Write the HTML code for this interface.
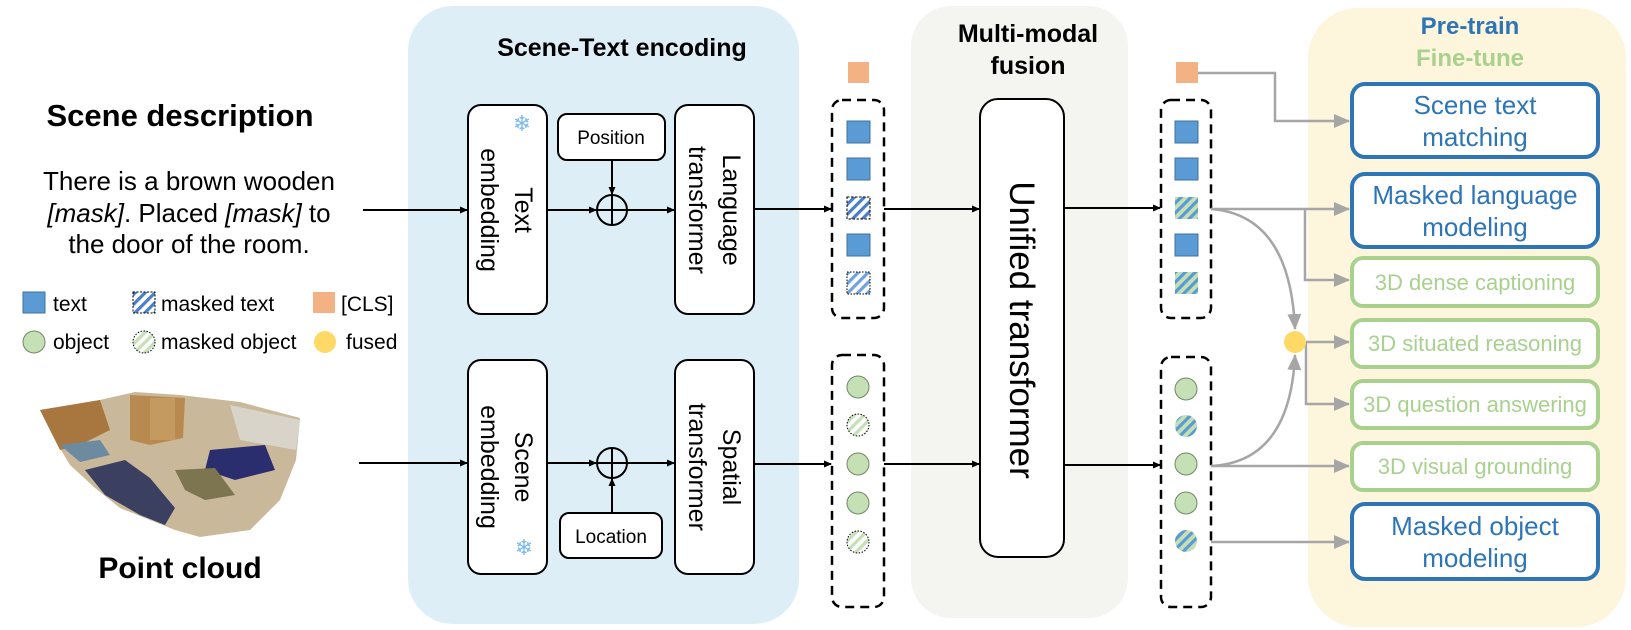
<!DOCTYPE html>
<html><head><meta charset="utf-8"><style>
html,body{margin:0;padding:0;background:#fff;}
svg{display:block;font-family:"Liberation Sans",Arial,sans-serif;}
</style></head><body>
<svg width="1631" height="630" viewBox="0 0 1631 630" xmlns="http://www.w3.org/2000/svg">
<defs>
<marker id="ab" markerWidth="8" markerHeight="8" refX="7" refY="4" orient="auto" markerUnits="userSpaceOnUse"><path d="M0,0.5 L8,4 L0,7.5 z" fill="#000"/></marker>
<marker id="ag" markerWidth="16" markerHeight="14" refX="15" refY="7" orient="auto" markerUnits="userSpaceOnUse"><path d="M0,0 L16,7 L0,14 z" fill="#a6a6a6"/></marker>
<pattern id="pBlue" width="7" height="7" patternUnits="userSpaceOnUse" patternTransform="rotate(45)"><rect width="7" height="7" fill="#fff"/><rect width="3.2" height="7" fill="#4a7fc8"/></pattern>
<pattern id="pBlueL" width="7" height="7" patternUnits="userSpaceOnUse" patternTransform="rotate(45)"><rect width="7" height="7" fill="#fff"/><rect width="3.2" height="7" fill="#6fa3dc"/></pattern>
<pattern id="pGreenW" width="7" height="7" patternUnits="userSpaceOnUse" patternTransform="rotate(45)"><rect width="7" height="7" fill="#fff"/><rect width="3.2" height="7" fill="#c5e0b4"/></pattern>
<pattern id="pGB" width="7" height="7" patternUnits="userSpaceOnUse" patternTransform="rotate(45)"><rect width="7" height="7" fill="#c5e0b4"/><rect width="3.2" height="7" fill="#5b9bd5"/></pattern>
</defs>

<rect x="408" y="6" width="391" height="618" rx="45" fill="#deeef7"/>
<rect x="911" y="6" width="217" height="612" rx="40" fill="#f4f5f0"/>
<rect x="1308" y="8" width="318" height="619" rx="50" fill="#fdf5dc"/>

<text x="622" y="56" font-size="25" font-weight="bold" text-anchor="middle">Scene-Text encoding</text>
<text x="1028" y="42" font-size="25" font-weight="bold" text-anchor="middle">Multi-modal</text>
<text x="1028" y="74" font-size="25" font-weight="bold" text-anchor="middle">fusion</text>
<text x="1470" y="34" font-size="24" font-weight="bold" text-anchor="middle" fill="#2e75b6">Pre-train</text>
<text x="1470" y="66" font-size="24" font-weight="bold" text-anchor="middle" fill="#a9d18e">Fine-tune</text>

<text x="180" y="126" font-size="31" font-weight="bold" text-anchor="middle">Scene description</text>
<text x="189" y="190" font-size="26" text-anchor="middle">There is a brown wooden</text>
<text x="189" y="222" font-size="26" text-anchor="middle"><tspan font-style="italic">[mask]</tspan>. Placed <tspan font-style="italic">[mask]</tspan> to</text>
<text x="189" y="253" font-size="26" text-anchor="middle">the door of the room.</text>

<rect x="23" y="292" width="22" height="21" fill="#5b9bd5" stroke="#41719c" stroke-width="1"/>
<text x="53" y="311" font-size="21">text</text>
<rect x="133" y="292" width="22" height="21" fill="url(#pBlue)" stroke="#000" stroke-width="1" stroke-dasharray="2,1.5"/>
<text x="161" y="311" font-size="21">masked text</text>
<rect x="313" y="292" width="22" height="21" fill="#f4b183"/>
<text x="341" y="311" font-size="21">[CLS]</text>
<circle cx="34" cy="342" r="11" fill="#c5e0b4" stroke="#70866a" stroke-width="1"/>
<text x="53" y="349" font-size="21">object</text>
<circle cx="144" cy="342" r="11" fill="url(#pGreenW)" stroke="#000" stroke-width="1" stroke-dasharray="1.5,1.5"/>
<text x="161" y="349" font-size="21">masked object</text>
<circle cx="325" cy="342" r="11" fill="#ffd966"/>
<text x="346" y="349" font-size="21">fused</text>

<g>
<path d="M40,410 L100,400 L135,392 L180,395 L240,402 L300,418 L296,460 L280,500 L250,530 L200,537 L175,530 L150,520 L120,508 L95,488 L70,465 L55,440 Z" fill="#c9b89a"/>
<path d="M40,410 L100,400 L110,430 L80,445 L60,450 L55,440 Z" fill="#a8773f"/>
<path d="M130,395 L185,398 L183,438 L150,445 L130,440 Z" fill="#b88a4f"/>
<path d="M150,398 L175,398 L175,440 L150,440 Z" fill="#c59a60"/>
<path d="M230,405 L300,420 L296,450 L240,440 Z" fill="#d8d4c9"/>
<path d="M210,450 L265,445 L275,470 L235,480 L205,470 Z" fill="#2a2d6e"/>
<path d="M85,470 L125,460 L150,478 L175,508 L165,525 L140,515 L105,495 Z" fill="#3b4060"/>
<path d="M175,470 L215,468 L235,495 L205,500 L185,490 Z" fill="#7d7450"/>
<path d="M60,445 L100,440 L110,455 L80,462 Z" fill="#6c8aa0"/>
</g>
<text x="180" y="578" font-size="30" font-weight="bold" text-anchor="middle">Point cloud</text>

<g fill="#fff" stroke="#000" stroke-width="2">
<rect x="468" y="105" width="79" height="209" rx="13"/>
<rect x="675" y="105" width="79" height="209" rx="13"/>
<rect x="468" y="360" width="79" height="214" rx="13"/>
<rect x="675" y="360" width="79" height="214" rx="13"/>
<rect x="558" y="114" width="107" height="46" rx="9"/>
<rect x="560" y="513" width="102" height="45" rx="9"/>
<rect x="980" y="99" width="84" height="458" rx="18"/>
</g>
<text x="611" y="144" font-size="19" text-anchor="middle">Position</text>
<text x="611" y="543" font-size="19" text-anchor="middle">Location</text>
<g font-size="25" text-anchor="middle">
<text transform="translate(506,210) rotate(90)"><tspan x="0" y="-9">Text</tspan><tspan x="0" y="25">embedding</tspan></text>
<text transform="translate(714,210) rotate(90)"><tspan x="0" y="-9">Language</tspan><tspan x="0" y="25">transformer</tspan></text>
<text transform="translate(506,467) rotate(90)"><tspan x="0" y="-9">Scene</tspan><tspan x="0" y="25">embedding</tspan></text>
<text transform="translate(714,467) rotate(90)"><tspan x="0" y="-9">Spatial</tspan><tspan x="0" y="25">transformer</tspan></text>
<text transform="translate(1022,330) rotate(90)" font-size="35" y="12">Unified transformer</text>
</g>
<text x="522" y="131" font-size="22" text-anchor="middle" fill="#7ab8ec">❄</text>
<text x="524" y="555" font-size="22" text-anchor="middle" fill="#7ab8ec">❄</text>

<g fill="none" stroke="#000" stroke-width="2">
<circle cx="612" cy="210" r="15"/><path d="M597,210 H627 M612,195 V225"/>
<circle cx="612" cy="463" r="15"/><path d="M597,463 H627 M612,448 V478"/>
</g>

<g stroke="#000" stroke-width="2" fill="none" marker-end="url(#ab)">
<path d="M363,210 H467"/>
<path d="M359,463 H467"/>
<path d="M547,210 H596"/>
<path d="M627,210 H674"/>
<path d="M547,463 H596"/>
<path d="M627,463 H674"/>
<path d="M612,160 V194"/>
<path d="M612,513 V479"/>
<path d="M754,209 H831"/>
<path d="M754,464 H831"/>
<path d="M884,209 H979"/>
<path d="M884,464 H979"/>
<path d="M1064,208 H1160"/>
<path d="M1064,465 H1160"/>
</g>

<g fill="none" stroke="#000" stroke-width="2.5" stroke-dasharray="9,6">
<rect x="832" y="100" width="52" height="218" rx="10"/>
<rect x="832" y="355" width="52" height="252" rx="10"/>
<rect x="1161" y="100" width="50" height="218" rx="10"/>
<rect x="1161" y="357" width="50" height="250" rx="10"/>
</g>

<rect x="848" y="62" width="21" height="21" fill="#f4b183"/>
<rect x="1176" y="62" width="22" height="21" fill="#f4b183"/>

<g stroke="#41719c" stroke-width="1">
<rect x="847" y="121" width="23" height="22" fill="#5b9bd5"/>
<rect x="847" y="158" width="23" height="22" fill="#5b9bd5"/>
<rect x="847" y="234" width="23" height="22" fill="#5b9bd5"/>
<rect x="1175" y="121" width="23" height="22" fill="#5b9bd5"/>
<rect x="1175" y="158" width="23" height="22" fill="#5b9bd5"/>
<rect x="1175" y="234" width="23" height="22" fill="#5b9bd5"/>
</g>
<rect x="847" y="197" width="23" height="22" fill="url(#pBlue)" stroke="#000" stroke-width="1" stroke-dasharray="2.5,1.5"/>
<rect x="847" y="272" width="23" height="22" fill="url(#pBlueL)" stroke="#000" stroke-width="1" stroke-dasharray="1.5,1.5"/>
<rect x="1175" y="197" width="23" height="22" fill="url(#pGB)"/>
<rect x="1175" y="272" width="23" height="22" fill="url(#pGB)"/>

<g stroke="#70866a" stroke-width="1" fill="#c5e0b4">
<circle cx="858" cy="387" r="11"/><circle cx="858" cy="464" r="11"/><circle cx="858" cy="503" r="11"/>
<circle cx="1186" cy="389" r="11"/><circle cx="1186" cy="464" r="11"/><circle cx="1186" cy="503" r="11"/>
</g>
<g stroke="#000" stroke-width="1" stroke-dasharray="1.5,1.5" fill="url(#pGreenW)">
<circle cx="858" cy="425" r="11"/><circle cx="858" cy="542" r="11"/>
</g>
<circle cx="1186" cy="426" r="11" fill="url(#pGB)"/>
<circle cx="1186" cy="541" r="11" fill="url(#pGB)"/>

<g stroke="#a6a6a6" stroke-width="2.5" fill="none">
<path d="M1198,73 H1275 V121 H1349" marker-end="url(#ag)"/>
<path d="M1211,209 H1349" marker-end="url(#ag)"/>
<path d="M1305,209 V280 H1349" marker-end="url(#ag)"/>
<path d="M1211,209 Q1290,215 1295,329" marker-end="url(#ag)"/>
<path d="M1211,466 Q1290,462 1295,355" marker-end="url(#ag)"/>
<path d="M1306,342 H1349" marker-end="url(#ag)"/>
<path d="M1306,342 V404 H1349" marker-end="url(#ag)"/>
<path d="M1211,466 H1349" marker-end="url(#ag)"/>
<path d="M1211,542 H1349" marker-end="url(#ag)"/>
</g>
<circle cx="1295" cy="342" r="11" fill="#ffd966"/>

<g fill="#fff" stroke-width="4">
<rect x="1352" y="84" width="246" height="73" rx="13" stroke="#2e75b6"/>
<rect x="1352" y="174" width="246" height="73" rx="13" stroke="#2e75b6"/>
<rect x="1352" y="258" width="246" height="48" rx="11" stroke="#a9d18e"/>
<rect x="1352" y="320" width="246" height="47" rx="11" stroke="#a9d18e"/>
<rect x="1352" y="381" width="246" height="47" rx="11" stroke="#a9d18e"/>
<rect x="1352" y="443" width="246" height="47" rx="11" stroke="#a9d18e"/>
<rect x="1352" y="504" width="246" height="75" rx="13" stroke="#2e75b6"/>
</g>
<g font-size="26" fill="#2e75b6" text-anchor="middle">
<text x="1475" y="114">Scene text</text><text x="1475" y="146">matching</text>
<text x="1475" y="204">Masked language</text><text x="1475" y="236">modeling</text>
<text x="1475" y="535">Masked object</text><text x="1475" y="567">modeling</text>
</g>
<g font-size="22" fill="#a9d18e" text-anchor="middle">
<text x="1475" y="290">3D dense captioning</text>
<text x="1475" y="351">3D situated reasoning</text>
<text x="1475" y="412">3D question answering</text>
<text x="1475" y="474">3D visual grounding</text>
</g>
</svg>
</body></html>
